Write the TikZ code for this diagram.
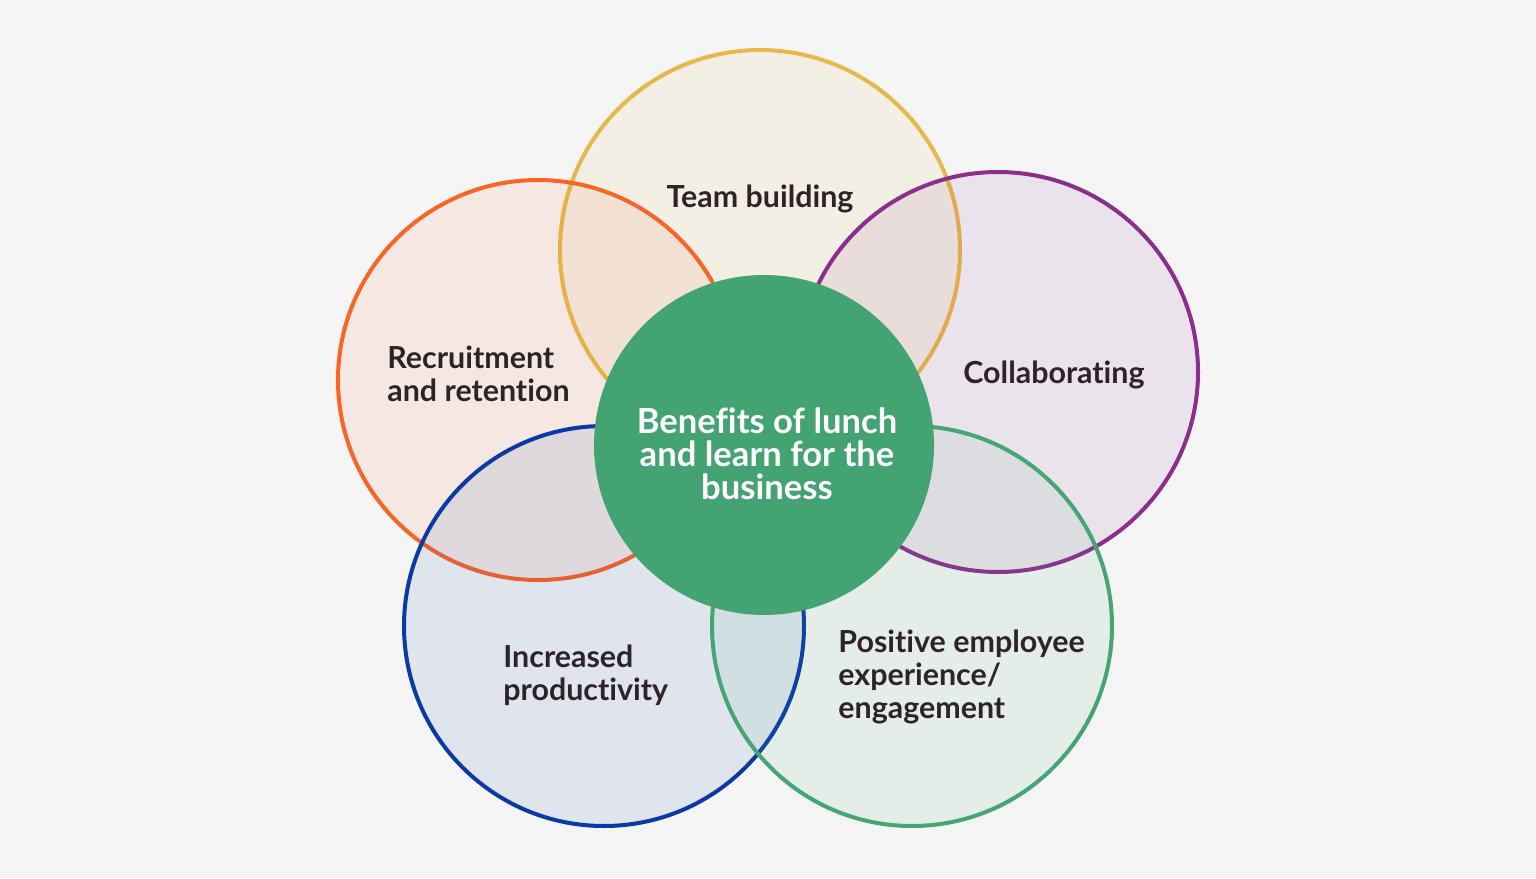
\documentclass[tikz,border=0pt]{standalone}
\usepackage{fontspec}
\setmainfont{Lato}[Ligatures=NoCommon]
\usetikzlibrary{positioning}
\definecolor{bgcol}{HTML}{F5F5F5}
\definecolor{teamcol}{HTML}{E8B84A}
\definecolor{recrcol}{HTML}{FA6526}
\definecolor{collcol}{HTML}{8C2E8B}
\definecolor{prodcol}{HTML}{0A3AA6}
\definecolor{posicol}{HTML}{46A575}
\definecolor{hubcol}{HTML}{43A373}
\definecolor{txtcol}{HTML}{2E2329}
\tikzset{
  petal/.style={circle, draw=#1, line width=2pt, fill=#1, fill opacity=0.09,
    draw opacity=1, minimum size=200pt, inner sep=0pt},
  lbl/.style={font=\bfseries\fontsize{15.2}{16.5}\selectfont, text=txtcol,
    align=left, inner sep=0pt, anchor=west},
}
\begin{document}
\begin{tikzpicture}[x=0.5pt,y=-0.5pt]
\fill[bgcol] (0,0) rectangle (1536,878);
\useasboundingbox (0,0) rectangle (1536,878);
% the five petals
\node (team) [petal=teamcol] at (760,250) {};
\node (recr) [petal=recrcol] at (538,380) {};
\node (coll) [petal=collcol] at (998,372) {};
\node (prod) [petal=prodcol] at (604,626) {};
\node (posi) [petal=posicol] at (912,626) {};
% the hub
\node (hub) [circle, fill=hubcol, minimum size=170pt, inner sep=0pt] at (764,445) {};
% labels
\node (teamlbl) [lbl, anchor=center] at (760,199) {Team building};
\node (recrlbl) [lbl] at (387,374) {Recruitment\\and retention};
\node (colllbl) [lbl] at (963,375) {Collaborating};
\node (prodlbl) [lbl] at (503,675) {Increased\\productivity};
\node (posilbl) [lbl] at (838,677) {Positive employee\\experience/\\engagement};
\node (hublbl) [font=\bfseries\fontsize{17.3}{16.5}\selectfont, text=white,
  align=center, inner sep=0pt] at (767,454) {Benefits of lunch\\and learn for the\\business};
\end{tikzpicture}
\end{document}
